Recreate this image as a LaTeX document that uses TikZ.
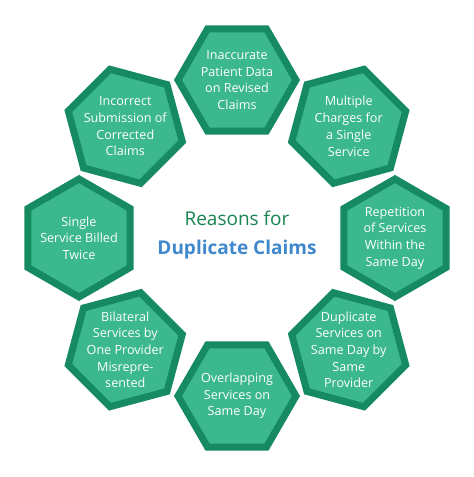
\documentclass[tikz,border=0pt]{standalone}
\usepackage{fontspec}
\setmainfont{Open Sans}
\usetikzlibrary{shapes.geometric}
\definecolor{hexfill}{HTML}{3BB88D}
\definecolor{hexborder}{HTML}{168B61}
\definecolor{titlegreen}{HTML}{17854F}
\definecolor{titleblue}{HTML}{3F88CC}
\tikzset{
  hexshape/.style={regular polygon, regular polygon sides=6, draw=hexborder, fill=hexfill,
    line width=7pt, minimum size=118pt, inner sep=0pt, line join=miter},
  hextext/.style={text=white, align=center, font=\fontsize{12.6}{16.7}\selectfont, inner sep=0pt},
}
\begin{document}
\begin{tikzpicture}[x=1pt,y=1pt]
\useasboundingbox (-237,-239) rectangle (237,238);
\foreach \ang/\nm/\txt in {
  90/a/{Inaccurate\\Patient Data\\on Revised\\Claims},
  45/b/{Multiple\\Charges for\\a Single\\Service},
  0/c/{Repetition\\of Services\\Within the\\Same Day},
  -45/d/{Duplicate\\Services on\\Same Day by\\Same\\Provider},
  -90/e/{Overlapping\\Services on\\Same Day},
  -135/f/{Bilateral\\Services by\\One Provider\\Misrepre-\\sented},
  180/g/{Single\\Service Billed\\Twice},
  135/h/{Incorrect\\Submission of\\Corrected\\Claims}} {
  \node[hexshape, rotate=\ang-90] (hex\nm) at (\ang:158) {};
  \node[hextext] (txt\nm) at (hex\nm.center) {\txt};
}
\node[align=center, inner sep=0pt, font=\fontsize{19}{29}\selectfont] (title) at (0,3)
  {\textcolor{titlegreen}{Reasons for}\\\textcolor{titleblue}{\bfseries Duplicate Claims}};
\end{tikzpicture}
\end{document}
